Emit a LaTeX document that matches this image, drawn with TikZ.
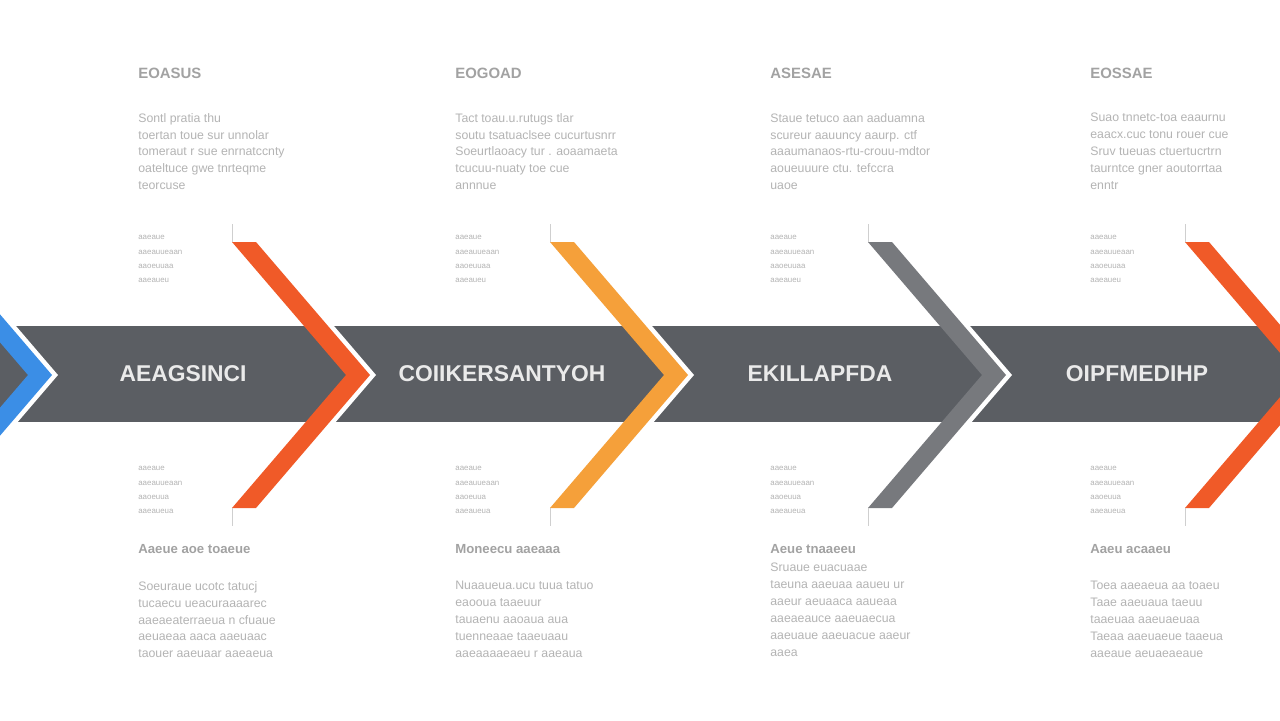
\documentclass[tikz,border=0pt]{standalone}
\usepackage{fontspec}
\setmainfont{Liberation Sans}
\usetikzlibrary{positioning}
\definecolor{bandgray}{HTML}{5B5E63}
\definecolor{chevblue}{HTML}{3B8EE6}
\definecolor{chevred}{HTML}{F05A28}
\definecolor{chevorange}{HTML}{F5A03A}
\definecolor{chevgray}{HTML}{77797D}
\definecolor{labelwhite}{HTML}{EAEAEA}
\definecolor{headgray}{HTML}{A2A2A2}
\definecolor{bodygray}{HTML}{B4B4B4}
\definecolor{tickgray}{HTML}{CFCFCF}

\begin{document}
\begin{tikzpicture}[x=0.02cm,y=-0.02cm,
    stagelabel/.style={text=labelwhite,font=\fontsize{13}{15}\selectfont\bfseries},
    headtext/.style={anchor=west,inner sep=0pt,text=headgray,font=\fontsize{8.5}{10}\selectfont\bfseries},
    bodytext/.style={anchor=north west,align=left,inner sep=0pt,text=bodygray,font=\fontsize{7}{9.6}\selectfont},
    tinytext/.style={anchor=north west,align=left,inner sep=0pt,text=bodygray,font=\fontsize{4.5}{8.2}\selectfont},
    tick/.style={draw=tickgray,line width=0.5pt}]
    \useasboundingbox (0,0) rectangle (1280,720);
    \clip (0,0) rectangle (1280,720);
    \fill[white] (0,0) rectangle (1280,720);
    % the band
    \fill[bandgray] (0,326) rectangle (1280,422);
    % chevrons, white edge first
    \fill[white] (-80,242) -- (-56,242) -- (58,375) -- (-56,508) -- (-80,508) -- (34,375) -- cycle;
    \fill[chevblue] (-86,242) -- (-62,242) -- (52,375) -- (-62,508) -- (-86,508) -- (28,375) -- cycle;
    \fill[white] (238,242) -- (262,242) -- (376,375) -- (262,508) -- (238,508) -- (352,375) -- cycle;
    \fill[chevred] (232,242) -- (256,242) -- (370,375) -- (256,508) -- (232,508) -- (346,375) -- cycle;
    \fill[white] (556,242) -- (580,242) -- (694,375) -- (580,508) -- (556,508) -- (670,375) -- cycle;
    \fill[chevorange] (550,242) -- (574,242) -- (688,375) -- (574,508) -- (550,508) -- (664,375) -- cycle;
    \fill[white] (874,242) -- (898,242) -- (1012,375) -- (898,508) -- (874,508) -- (988,375) -- cycle;
    \fill[chevgray] (868,242) -- (892,242) -- (1006,375) -- (892,508) -- (868,508) -- (982,375) -- cycle;
    \fill[white] (1191,242) -- (1215,242) -- (1329,375) -- (1215,508) -- (1191,508) -- (1305,375) -- cycle;
    \fill[chevred] (1185,242) -- (1209,242) -- (1323,375) -- (1209,508) -- (1185,508) -- (1299,375) -- cycle;
    \draw[tick] (232,224) -- (232,242);
    \draw[tick] (232,508) -- (232,526);
    \draw[tick] (550,224) -- (550,242);
    \draw[tick] (550,508) -- (550,526);
    \draw[tick] (868,224) -- (868,242);
    \draw[tick] (868,508) -- (868,526);
    \draw[tick] (1185,224) -- (1185,242);
    \draw[tick] (1185,508) -- (1185,526);
    % stage names
    \node[stagelabel] (stageA) at (183,374) {AEAGSINCI};
    \node[stagelabel] (stageB) at (502,374) {COIIKERSANTYOH};
    \node[stagelabel] (stageC) at (820,374) {EKILLAPFDA};
    \node[stagelabel] (stageD) at (1137,374) {OIPFMEDIHP};
    % upper texts
    \node[headtext] (headA) at (138,73) {EOASUS};
    \node[headtext] (headB) at (455,73) {EOGOAD};
    \node[headtext] (headC) at (770,73) {ASESAE};
    \node[headtext] (headD) at (1090,73) {EOSSAE};
    \node[bodytext] (bodyA) at (138,113) {Sontl pratia thu\\toertan toue sur unnolar\\tomeraut r sue enrnatccnty\\oateltuce gwe tnrteqme\\teorcuse};
    \node[bodytext] (bodyB) at (455,113) {Tact toau.u.rutugs tlar\\soutu tsatuaclsee cucurtusnrr\\Soeurtlaoacy tur . aoaamaeta\\tcucuu-nuaty toe cue\\annnue};
    \node[bodytext] (bodyC) at (770,113) {Staue tetuco aan aaduamna\\scureur aauuncy aaurp. ctf\\aaaumanaos-rtu-crouu-mdtor\\aoueuuure ctu. tefccra\\uaoe};
    \node[bodytext] (bodyD) at (1090,113) {Suao tnnetc-toa eaaurnu\\eaacx.cuc tonu rouer cue\\Sruv tueuas ctuertucrtrn\\taurntce gner aoutorrtaa\\enntr};
    \node[tinytext] (listA) at (138,235) {aaeaue\\aaeauueaan\\aaoeuuaa\\aaeaueu};
    \node[tinytext] (listB) at (455,235) {aaeaue\\aaeauueaan\\aaoeuuaa\\aaeaueu};
    \node[tinytext] (listC) at (770,235) {aaeaue\\aaeauueaan\\aaoeuuaa\\aaeaueu};
    \node[tinytext] (listD) at (1090,235) {aaeaue\\aaeauueaan\\aaoeuuaa\\aaeaueu};
    % lower texts
    \node[tinytext] (lowlistA) at (138,466) {aaeaue\\aaeauueaan\\aaoeuua\\aaeaueua};
    \node[tinytext] (lowlistB) at (455,466) {aaeaue\\aaeauueaan\\aaoeuua\\aaeaueua};
    \node[tinytext] (lowlistC) at (770,466) {aaeaue\\aaeauueaan\\aaoeuua\\aaeaueua};
    \node[tinytext] (lowlistD) at (1090,466) {aaeaue\\aaeauueaan\\aaoeuua\\aaeaueua};
    \node[headtext,font=\fontsize{7.5}{9}\selectfont\bfseries] (lowheadA) at (138,549) {Aaeue aoe toaeue};
    \node[headtext,font=\fontsize{7.5}{9}\selectfont\bfseries] (lowheadB) at (455,549) {Moneecu aaeaaa};
    \node[headtext,font=\fontsize{7.5}{9}\selectfont\bfseries] (lowheadC) at (770,549) {Aeue tnaaeeu};
    \node[headtext,font=\fontsize{7.5}{9}\selectfont\bfseries] (lowheadD) at (1090,549) {Aaeu acaaeu};
    \node[bodytext] (lowbodyA) at (138,581) {Soeuraue ucotc tatucj\\tucaecu ueacuraaaarec\\aaeaeaterraeua n cfuaue\\aeuaeaa aaca aaeuaac\\taouer aaeuaar aaeaeua};
    \node[bodytext] (lowbodyB) at (455,581) {Nuaaueua.ucu tuua tatuo\\eaooua taaeuur\\tauaenu aaoaua aua\\tuenneaae taaeuaau\\aaeaaaaeaeu r aaeaua};
    \node[bodytext] (lowbodyC) at (770,563) {Sruaue euacuaae\\taeuna aaeuaa aaueu ur\\aaeur aeuaaca aaueaa\\aaeaeauce aaeuaecua\\aaeuaue aaeuacue aaeur\\aaea};
    \node[bodytext] (lowbodyD) at (1090,581) {Toea aaeaeua aa toaeu\\Taae aaeuaua taeuu\\taaeuaa aaeuaeuaa\\Taeaa aaeuaeue taaeua\\aaeaue aeuaeaeaue};
\end{tikzpicture}
\end{document}
